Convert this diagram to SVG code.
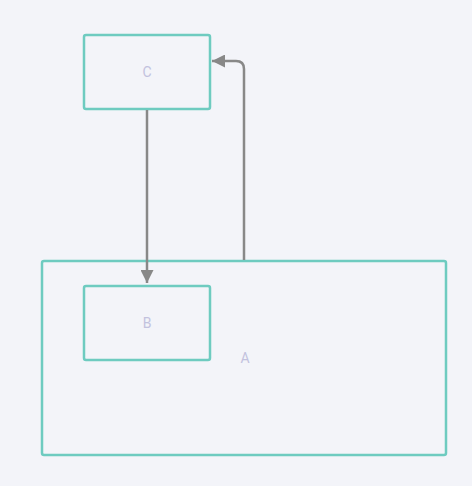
<svg xmlns="http://www.w3.org/2000/svg" width="474" height="489" viewBox="0 0 474 489">
<style>
.node rect{fill:none;stroke:#6ecbc0;stroke-width:2.5}
.lbl{font-family:Roboto,"DejaVu Sans","Liberation Sans",sans-serif;font-size:14px;fill:#c2c2de;text-anchor:middle;dominant-baseline:central}
.edge{fill:none;stroke:#888888;stroke-width:2.5}
</style>
<defs>
<marker id="arr" viewBox="0 0 10 10" refX="10" refY="5" markerWidth="5.6" markerHeight="5.2" orient="auto" markerUnits="strokeWidth">
<path d="M0,0 L10,5 L0,10 z" fill="#888888"/>
</marker>
</defs>
<rect x="0" y="0" width="474" height="489" fill="#ffffff"/>
<rect x="0" y="0" width="472" height="486" fill="#f3f4f9"/>
<g id="A" class="node">
<rect x="42" y="261" width="404" height="194" rx="2"/>
<text class="lbl" x="245" y="358">A</text>
</g>
<g id="B" class="node">
<rect x="84" y="286" width="126" height="74" rx="2"/>
<text class="lbl" x="147" y="323">B</text>
</g>
<g id="C" class="node">
<rect x="84" y="35" width="126" height="74" rx="2"/>
<text class="lbl" x="147" y="72">C</text>
</g>
<g id="connectors">
<path class="edge" d="M147,110 L147,283" marker-end="url(#arr)"/>
<path class="edge" d="M244,260 L244,69 Q244,61 236,61 L212,61" marker-end="url(#arr)"/>
</g>
</svg>
